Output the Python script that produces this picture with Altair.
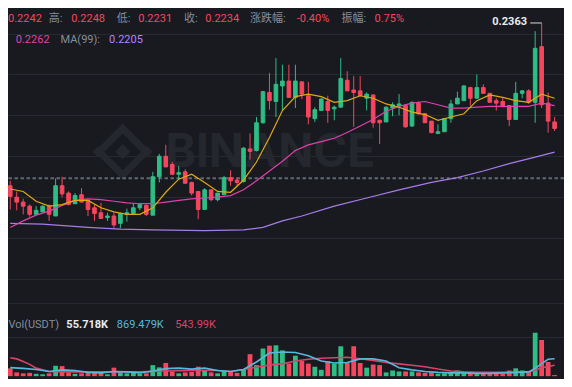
import altair as alt
import pandas as pd

# ---------------- data ----------------
opens = [0.2164, 0.2150, 0.2144, 0.2139, 0.2129, 0.2132, 0.2139, 0.2127, 0.2164, 0.2155,
         0.2142, 0.2153, 0.2146, 0.2137, 0.2131, 0.2125, 0.2127, 0.2118, 0.2129, 0.2130,
         0.2137, 0.2140, 0.2128, 0.2175, 0.2200, 0.2190, 0.2178, 0.2181, 0.2168, 0.2157,
         0.2135, 0.2159, 0.2147, 0.2153, 0.2174, 0.2171, 0.2169, 0.2209, 0.2207, 0.2241,
         0.2278, 0.2267, 0.2286, 0.2292, 0.2272, 0.2291, 0.2274, 0.2246, 0.2256, 0.2267,
         0.2258, 0.2260, 0.2293, 0.2281, 0.2280, 0.2271, 0.2275, 0.2244, 0.2242, 0.2259,
         0.2262, 0.2262, 0.2237, 0.2265, 0.2252, 0.2243, 0.2228, 0.2230, 0.2246, 0.2264,
         0.2268, 0.2284, 0.2271, 0.2284, 0.2277, 0.2268, 0.2267, 0.2262, 0.2245, 0.2277,
         0.2280, 0.2266, 0.2334, 0.2265, 0.2242]
highs = [0.2170, 0.2157, 0.2148, 0.2141, 0.2139, 0.2140, 0.2141, 0.2173, 0.2175, 0.2157,
         0.2155, 0.2161, 0.2147, 0.2141, 0.2143, 0.2131, 0.2131, 0.2131, 0.2136, 0.2142,
         0.2143, 0.2141, 0.2181, 0.2203, 0.2214, 0.2193, 0.2188, 0.2184, 0.2169, 0.2157,
         0.2161, 0.2159, 0.2155, 0.2176, 0.2183, 0.2174, 0.2211, 0.2228, 0.2248, 0.2280,
         0.2302, 0.2320, 0.2312, 0.2312, 0.2312, 0.2291, 0.2291, 0.2260, 0.2271, 0.2274,
         0.2262, 0.2320, 0.2304, 0.2298, 0.2298, 0.2278, 0.2275, 0.2245, 0.2261, 0.2266,
         0.2276, 0.2262, 0.2267, 0.2267, 0.2253, 0.2243, 0.2239, 0.2247, 0.2269, 0.2279,
         0.2287, 0.2285, 0.2300, 0.2288, 0.2277, 0.2271, 0.2272, 0.2262, 0.2291, 0.2281,
         0.2282, 0.2353, 0.2363, 0.2278, 0.2248]
lows = [0.2135, 0.2134, 0.2129, 0.2126, 0.2129, 0.2132, 0.2121, 0.2127, 0.2150, 0.2140,
        0.2142, 0.2144, 0.2127, 0.2121, 0.2124, 0.2121, 0.2112, 0.2112, 0.2120, 0.2129,
        0.2134, 0.2127, 0.2128, 0.2168, 0.2187, 0.2177, 0.2172, 0.2167, 0.2152, 0.2123,
        0.2135, 0.2145, 0.2145, 0.2153, 0.2164, 0.2164, 0.2168, 0.2196, 0.2206, 0.2240,
        0.2257, 0.2248, 0.2256, 0.2272, 0.2259, 0.2270, 0.2239, 0.2242, 0.2256, 0.2241,
        0.2244, 0.2260, 0.2280, 0.2236, 0.2274, 0.2256, 0.2235, 0.2215, 0.2242, 0.2249,
        0.2250, 0.2235, 0.2236, 0.2251, 0.2241, 0.2228, 0.2227, 0.2230, 0.2241, 0.2264,
        0.2268, 0.2262, 0.2271, 0.2277, 0.2266, 0.2256, 0.2262, 0.2237, 0.2245, 0.2271,
        0.2264, 0.2241, 0.2259, 0.2229, 0.2231]
closes = [0.2151, 0.2144, 0.2139, 0.2129, 0.2134, 0.2139, 0.2129, 0.2164, 0.2154, 0.2141,
          0.2152, 0.2144, 0.2135, 0.2130, 0.2124, 0.2127, 0.2116, 0.2130, 0.2131, 0.2137,
          0.2141, 0.2129, 0.2175, 0.2200, 0.2187, 0.2178, 0.2180, 0.2167, 0.2155, 0.2135,
          0.2159, 0.2147, 0.2155, 0.2174, 0.2170, 0.2168, 0.2210, 0.2206, 0.2241, 0.2279,
          0.2268, 0.2288, 0.2292, 0.2272, 0.2292, 0.2276, 0.2248, 0.2257, 0.2270, 0.2256,
          0.2260, 0.2295, 0.2280, 0.2278, 0.2274, 0.2276, 0.2241, 0.2241, 0.2260, 0.2263,
          0.2264, 0.2236, 0.2266, 0.2252, 0.2241, 0.2229, 0.2230, 0.2246, 0.2264, 0.2271,
          0.2286, 0.2271, 0.2284, 0.2277, 0.2266, 0.2265, 0.2262, 0.2245, 0.2277, 0.2280,
          0.2266, 0.2332, 0.2263, 0.2243, 0.2234]
volumes_k = [390, 188, 141, 165, 118, 94, 141, 517, 503, 188,
             118, 141, 165, 188, 165, 94, 423, 212, 141, 165,
             118, 141, 550, 437, 658, 235, 141, 188, 212, 470,
             282, 188, 141, 259, 212, 165, 329, 1095, 550, 1377,
             1518, 1537, 1283, 625, 1020, 752, 625, 470, 315, 752,
             625, 1490, 658, 1490, 658, 423, 578, 550, 188, 282,
             235, 235, 235, 188, 165, 188, 118, 141, 188, 282,
             141, 165, 118, 118, 141, 141, 118, 282, 390, 282,
             235, 2162, 1800, 705, 55.718]

ma7_idx = list(range(0, 85, 2))
ma7 = [0.2160, 0.2157, 0.2145, 0.2139, 0.2141, 0.2146, 0.2146, 0.2137, 0.2132, 0.2129,
       0.2129, 0.2137, 0.2156, 0.2172, 0.2178, 0.2168, 0.2157, 0.2156, 0.2171, 0.2193,
       0.2223, 0.2256, 0.2273, 0.2276, 0.2273, 0.2266, 0.2268, 0.2274, 0.2271, 0.2264,
       0.2260, 0.2254, 0.2251, 0.2244, 0.2248, 0.2252, 0.2268, 0.2275, 0.2272, 0.2268,
       0.2266, 0.2276, 0.2271]
ma25_idx = list(range(0, 85, 2))
ma25 = [0.2113, 0.2121, 0.2128, 0.2133, 0.2140, 0.2146, 0.2148, 0.2147, 0.2145, 0.2143,
        0.2142, 0.2142, 0.2144, 0.2146, 0.2148, 0.2149, 0.2150, 0.2152, 0.2159, 0.2170,
        0.2182, 0.2194, 0.2207, 0.2214, 0.2218, 0.2222, 0.2229, 0.2237, 0.2245, 0.2255,
        0.2261, 0.2265, 0.2267, 0.2263, 0.2259, 0.2259, 0.2260, 0.2261, 0.2261, 0.2261,
        0.2261, 0.2265, 0.2262]
ma99_idx = [0, 5, 12, 17, 22, 30, 36, 39, 42, 45, 50, 55, 60, 65, 69, 73, 77, 81, 84]
ma99 = [0.2118, 0.2117, 0.2113, 0.2111, 0.2110, 0.2109, 0.2110, 0.2113, 0.2121, 0.2127,
        0.2139, 0.2149, 0.2159, 0.2168, 0.2174, 0.2182, 0.2191, 0.2199, 0.2205]

vma5_idx = list(range(0, 81, 2)) + [81, 82, 83, 84]
vma5 = [423, 390, 329, 235, 315, 282, 188, 165, 235, 212, 165, 259, 376, 400, 353, 400,
        282, 235, 329, 705, 1150, 1200, 1175, 1020, 752, 658, 680, 860, 860, 752, 423,
        315, 235, 188, 165, 165, 141, 141, 165, 188, 212, 390, 625, 840, 869.479]
vma10_idx = [0, 1, 2, 3, 4, 6, 8, 12, 16, 20, 24, 28, 32, 34, 36, 38, 40, 42, 44, 46,
             48, 50, 52, 54, 56, 58, 60, 62, 64, 66, 68, 70, 72, 76, 78, 80, 81, 82, 84]
vma10 = [917, 860, 729, 588, 400, 235, 212, 212, 212, 212, 259, 282, 282, 235, 329, 447,
         564, 611, 752, 846, 893, 917, 940, 870, 776, 682, 611, 541, 470, 353, 259, 212,
         188, 188, 188, 212, 306, 423, 543.99]

grid_prices = [0.235, 0.230, 0.225, 0.220, 0.215, 0.210, 0.205]
grid_vols_k = [1927, 3619]
grid_candles = list(range(1, 85, 8))
ref_price = 0.2173

header_change = "-0.40%"
header_amp = "0.75%"
vol_ma5_text = "869.479K"
vol_ma10_text = "543.99K"

# ---------------- layout / style ----------------
W, H = 556, 371
REF_W, REF_H = 572, 387
SX, SY = W / REF_W, H / REF_H
X_DOMAIN = [-0.345, 85.45]
P_DOMAIN = [0.19277, 0.23813]
V_DOMAIN = [-141, 18330]

BG = "#181a20"
GRID = "#262a31"
GREEN = "#2ebd85"
RED = "#f6465d"
GRAY = "#848e9c"
WHITE = "#eaecef"
PINK = "#e040a9"
PURPLE = "#b385f8"
CYAN = "#56b9dc"
CRIMSON = "#d9436a"
WM = "#24272d"
FONT = "Roboto, Noto Sans CJK SC, sans-serif"

xs = alt.Scale(domain=X_DOMAIN, nice=False, zero=False)
ps = alt.Scale(domain=P_DOMAIN, nice=False, zero=False)
vs = alt.Scale(domain=V_DOMAIN, nice=False, zero=False)

df = pd.DataFrame({"i": list(range(len(opens))), "open": opens, "high": highs,
                   "low": lows, "close": closes, "vol": volumes_k})
up = "datum.close >= datum.open"
dir_color = alt.condition(up, alt.value(GREEN), alt.value(RED))

# watermark
def wm_point(x, y, r, filled=True, sw=0):
    return alt.Chart(pd.DataFrame({"k": [0]})).mark_point(
        shape="diamond", filled=filled, size=(2 * r * SX) ** 2, color=WM,
        opacity=1, strokeWidth=sw
    ).encode(x=alt.value(x * SX), y=alt.value(y * SY))

watermark = [
    wm_point(118, 150, 24, filled=False, sw=7),
    wm_point(118, 150, 8),
    wm_point(93, 150, 6),
    wm_point(143, 150, 6),
    alt.Chart(pd.DataFrame({"t": ["BINANCE"]})).mark_text(
        align="left", baseline="middle", font="Inter, Roboto, sans-serif",
        fontSize=46, fontWeight="bold", color=WM
    ).encode(text="t:N", x=alt.value(162 * SX), y=alt.value(151 * SY)),
]

dashed = alt.Chart(pd.DataFrame({"p": [ref_price]})).mark_rule(
    color="#5e6673", strokeWidth=2, strokeDash=[3.5, 2.5]
).encode(y=alt.Y("p:Q", scale=ps, axis=None))

wicks = alt.Chart(df).mark_rule(clip=True, strokeWidth=1).encode(
    x=alt.X("i:Q", scale=xs, axis=alt.Axis(values=grid_candles, grid=True, gridColor=GRID,
                                           labels=False, ticks=False, domain=False, title=None)),
    y=alt.Y("low:Q", scale=ps, axis=alt.Axis(values=grid_prices, grid=True, gridColor=GRID,
                                             labels=False, ticks=False, domain=False,
                                             title=None, orient="left")),
    y2="high:Q",
    color=dir_color,
)

bodies = alt.Chart(df).transform_calculate(
    xl="datum.i - 0.28", xr="datum.i + 0.28"
).mark_rect(clip=True, strokeWidth=1).encode(
    x=alt.X("xl:Q", scale=xs, axis=None), x2="xr:Q",
    y=alt.Y("open:Q", scale=ps, axis=None), y2="close:Q",
    color=dir_color, stroke=dir_color,
)

def line(idx, vals, color, scale, sw=1.2):
    d = pd.DataFrame({"i": idx, "v": vals})
    return alt.Chart(d).mark_line(clip=True, strokeWidth=sw, color=color).encode(
        x=alt.X("i:Q", scale=xs, axis=None), y=alt.Y("v:Q", scale=scale, axis=None))

ma_lines = [line(ma99_idx, ma99, "#a77ce8", ps), line(ma25_idx, ma25, PINK, ps),
            line(ma7_idx, ma7, "#e0aa0c", ps)]

vol_bars = alt.Chart(df).transform_calculate(
    xl="datum.i - 0.37", xr="datum.i + 0.37", v0="0"
).mark_rect(clip=True).encode(
    x=alt.X("xl:Q", scale=xs, axis=None), x2="xr:Q",
    y=alt.Y("vol:Q", scale=vs, axis=alt.Axis(values=grid_vols_k, grid=True, gridColor=GRID,
                                             labels=False, ticks=False, domain=False,
                                             title=None, orient="right")),
    y2="v0:Q",
    color=dir_color,
)
vol_lines = [line(vma10_idx, vma10, CRIMSON, vs, 1.6), line(vma5_idx, vma5, CYAN, vs, 1.6)]

# max-high marker
imax = int(df["high"].idxmax())
mdf = df.iloc[[imax]].assign(label=f"{df['high'].max():.4f}")
max_rule = alt.Chart(mdf).transform_calculate(xl="datum.i - 1.75").mark_rule(
    color="#b7bdc6", strokeWidth=1.2
).encode(x=alt.X("xl:Q", scale=xs, axis=None), x2="i:Q", y=alt.Y("high:Q", scale=ps, axis=None))
max_text = alt.Chart(mdf).mark_text(
    align="right", baseline="middle", dx=-15 * SX, dy=-1, font=FONT, fontSize=11,
    fontWeight="bold", color=WHITE
).encode(x=alt.X("i:Q", scale=xs, axis=None), y=alt.Y("high:Q", scale=ps, axis=None),
         text="label:N")

# header texts
def txt(s, color, x, y, size=11, weight="normal"):
    return alt.Chart(pd.DataFrame({"t": [s]})).mark_text(
        align="left", baseline="middle", font=FONT, fontSize=size,
        fontWeight=weight, color=color
    ).encode(text="t:N", x=alt.value(x * SX), y=alt.value(y * SY))

last = len(opens) - 1
row1_y, row2_y, vol_y = 11, 33, 331
texts = [
    txt(f"{opens[last]:.4f}", RED, 0, row1_y),
    txt("高:", GRAY, 42, row1_y),
    txt(f"{highs[last]:.4f}", RED, 65, row1_y),
    txt("低:", GRAY, 112, row1_y),
    txt(f"{lows[last]:.4f}", RED, 134, row1_y),
    txt("收:", GRAY, 181, row1_y),
    txt(f"{closes[last]:.4f}", RED, 203, row1_y),
    txt("涨跌幅:", GRAY, 249, row1_y),
    txt(header_change, RED, 297, row1_y),
    txt("振幅:", GRAY, 343, row1_y),
    txt(header_amp, RED, 377, row1_y),
    txt(f"{ma25[-1]:.4f}", PINK, 8, row2_y),
    txt("MA(99):", GRAY, 54, row2_y),
    txt(f"{ma99[-1]:.4f}", PURPLE, 104, row2_y),
    txt("Vol(USDT)", GRAY, 0.5, vol_y),
    txt(f"{volumes_k[last]:.3f}K", WHITE, 60, vol_y, weight="bold"),
    txt(vol_ma5_text, CYAN, 112, vol_y),
    txt(vol_ma10_text, CRIMSON, 172, vol_y),
]

chart = alt.layer(
    *watermark, dashed, wicks, bodies, *ma_lines, vol_bars, *vol_lines,
    max_rule, max_text, *texts
).resolve_scale(y="independent").properties(
    width=W, height=H, padding=0, background=BG,
    autosize=alt.AutoSizeParams(type="none")
).configure_view(stroke=None)

chart.save("out.html", embed_options={"renderer": "svg", "actions": False})
